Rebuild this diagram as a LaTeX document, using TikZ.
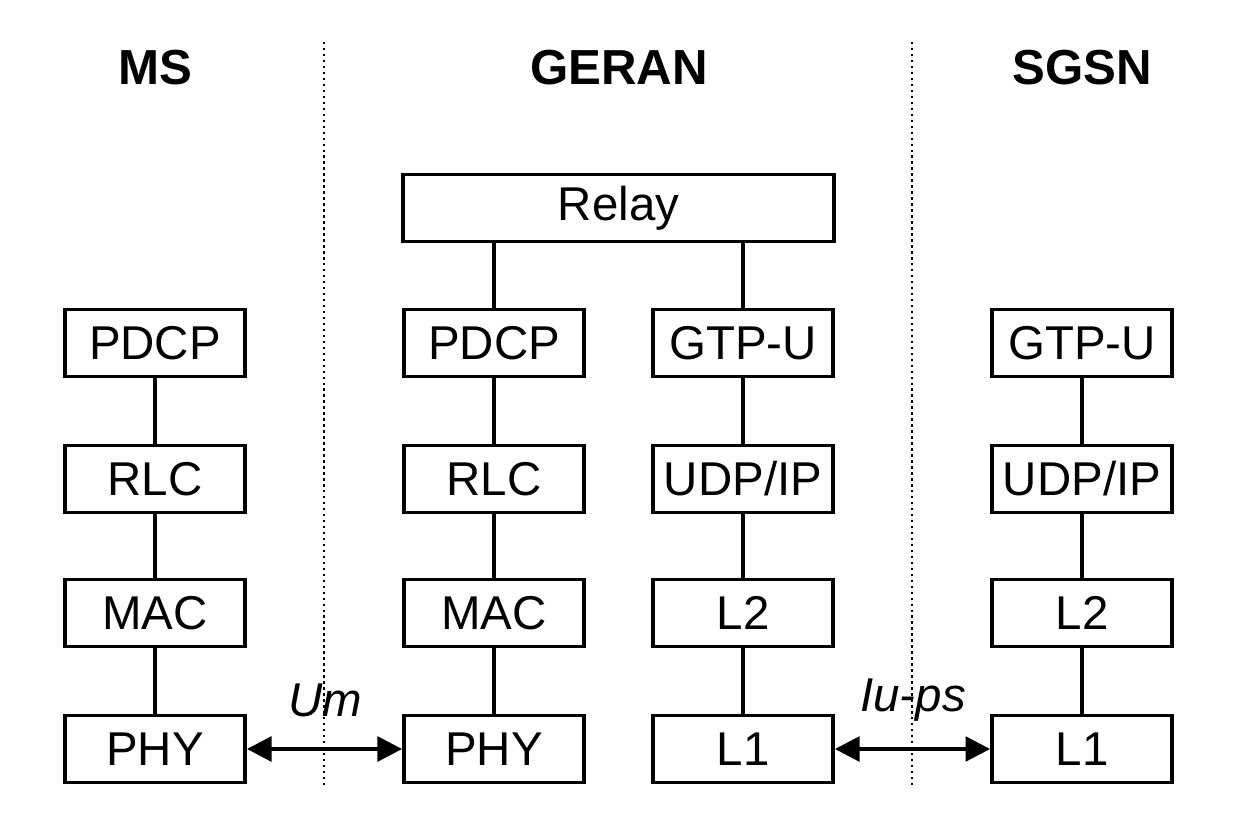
\documentclass[tikz,border=0pt]{standalone}
\usepackage{fontspec}
\setmainfont{Liberation Sans}
\usetikzlibrary{arrows.meta}
\begin{document}
\begin{tikzpicture}[x=0.02cm,y=-0.02cm,
 box/.style={draw,line width=2.2pt,minimum width=3.6cm,minimum height=1.34cm,inner sep=0pt,font=\fontsize{27}{30}\selectfont},
 ttl/.style={font=\bfseries\fontsize{28}{30}\selectfont},
 lbl/.style={font=\itshape\fontsize{27}{30}\selectfont},
 con/.style={line width=2pt},
 arr/.style={line width=2.2pt,{Triangle[length=14pt,width=14pt]}-{Triangle[length=14pt,width=14pt]}},
 sep/.style={line width=1.4pt,dotted}]
\useasboundingbox (0,0) rectangle (1243,838);
\node[ttl] (tms) at (155,68) {MS};
\node[ttl] (tge) at (619,68) {GERAN};
\node[ttl] (tsg) at (1082,68) {SGSN};
\coordinate (s1a) at (324,42); \coordinate (s1b) at (324,785);
\coordinate (s2a) at (912,42); \coordinate (s2b) at (912,785);
\draw[sep] (s1a) -- (s1b); \draw[sep] (s2a) -- (s2b);
\node[box,minimum width=8.62cm] (relay) at (618.5,208) {Relay};
\node[box] (mp) at (155,343) {PDCP};
\node[box] (mr) at (155,479) {RLC};
\node[box] (mm) at (155,613) {MAC};
\node[box] (mh) at (155,749) {PHY};
\node[box] (gp) at (494,343) {PDCP};
\node[box] (gr) at (494,479) {RLC};
\node[box] (gm) at (494,613) {MAC};
\node[box] (gh) at (494,749) {PHY};
\node[box] (gg) at (743,343) {GTP-U};
\node[box] (gu) at (743,479) {UDP/IP};
\node[box] (g2) at (743,613) {L2};
\node[box] (g1) at (743,749) {L1};
\node[box] (sg) at (1082,343) {GTP-U};
\node[box] (su) at (1082,479) {UDP/IP};
\node[box] (s2) at (1082,613) {L2};
\node[box] (s1) at (1082,749) {L1};
\draw[con] (mp)--(mr) (mr)--(mm) (mm)--(mh);
\draw[con] (gp)--(gr) (gr)--(gm) (gm)--(gh);
\draw[con] (gg)--(gu) (gu)--(g2) (g2)--(g1);
\draw[con] (sg)--(su) (su)--(s2) (s2)--(s1);
\draw[con] (relay.south -| gp.north) -- (gp.north);
\draw[con] (relay.south -| gg.north) -- (gg.north);
\draw[arr] (mh.east) -- (gh.west);
\draw[arr] (g1.east) -- (s1.west);
\node[lbl] (um) at (325,700) {Um};
\node[lbl] (iu) at (913,700) {Iu-ps};
\end{tikzpicture}
\end{document}
